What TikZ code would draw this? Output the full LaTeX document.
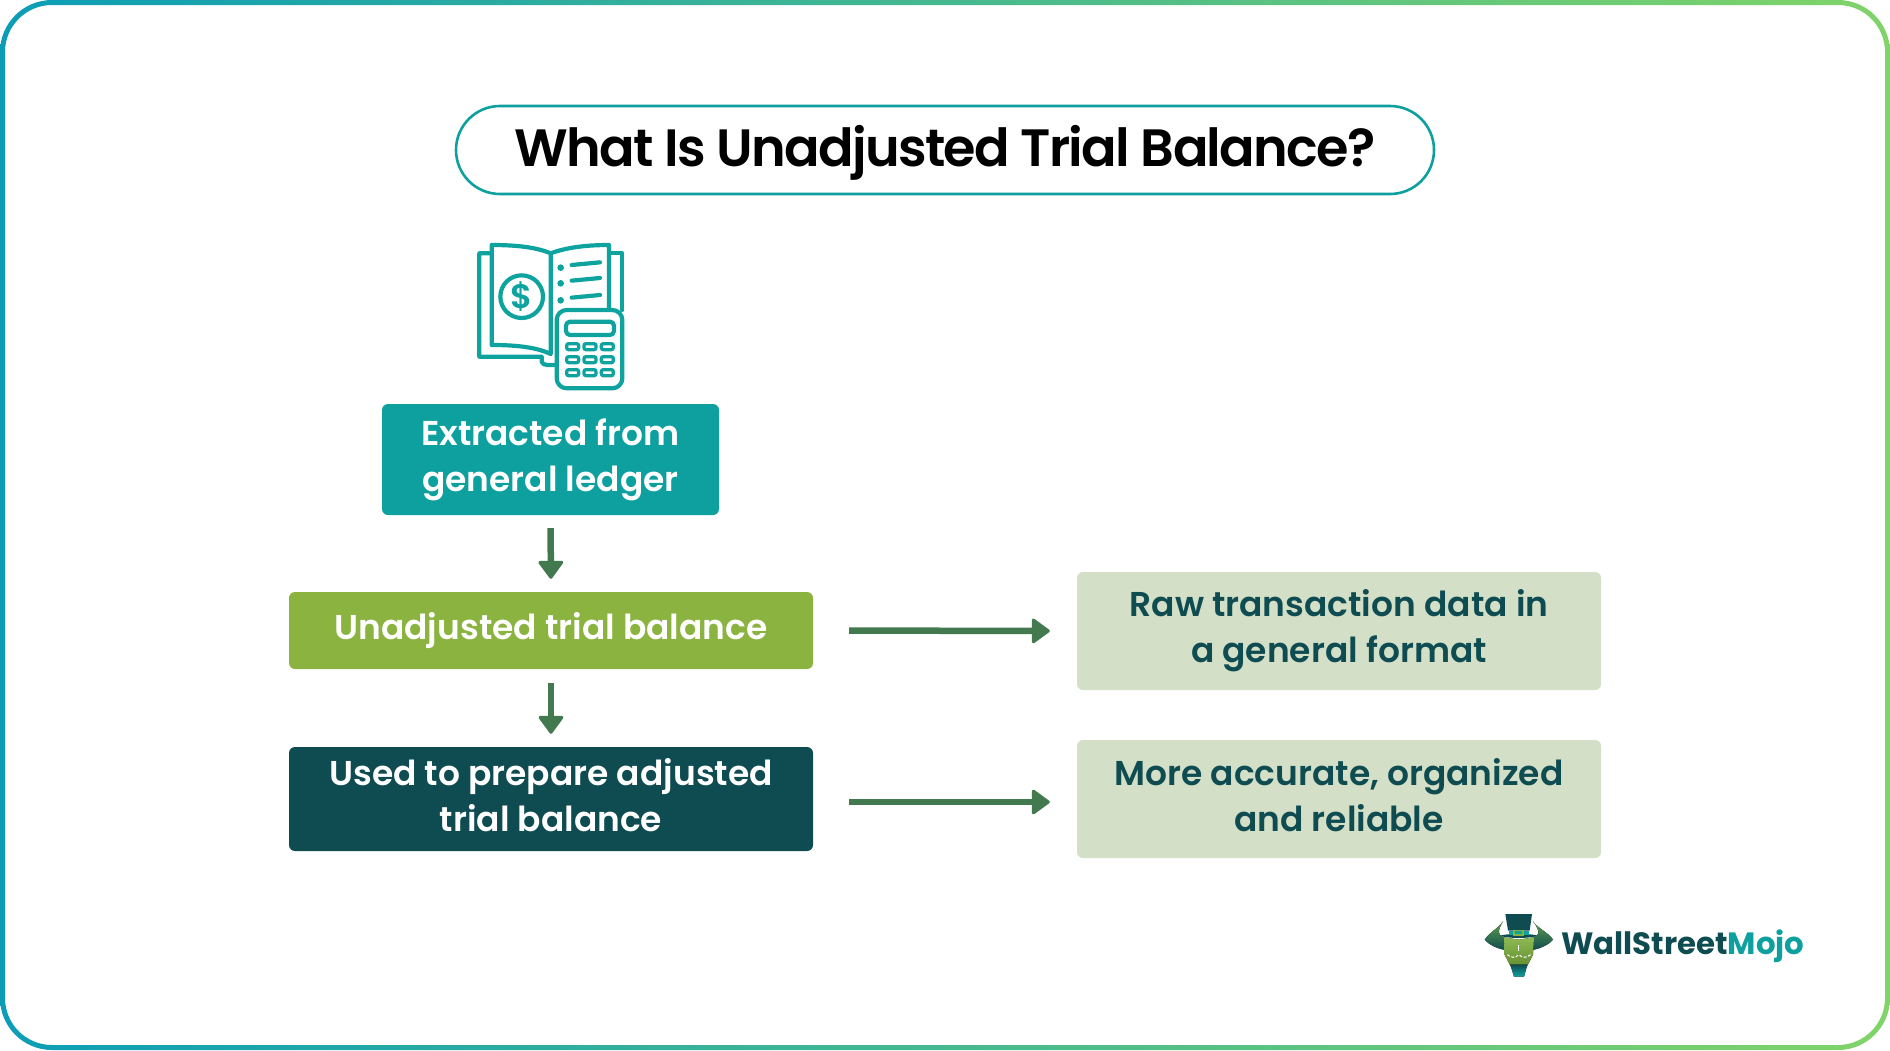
\documentclass[tikz,border=0pt]{standalone}
\usepackage{fontspec}
\setmainfont{Poppins}[BoldFont={Poppins SemiBold}]
\newfontfamily\titlefont{Poppins SemiBold}[LetterSpace=-3.3]
\newfontfamily\logofont{Poppins Bold}
\usetikzlibrary{arrows.meta}
\definecolor{tealbox}{HTML}{0E9F9F}
\definecolor{greenbox}{HTML}{8BB340}
\definecolor{darkbox}{HTML}{0F4C52}
\definecolor{palebox}{HTML}{D3DFC6}
\definecolor{arrowgreen}{HTML}{43794F}
\definecolor{iconteal}{HTML}{0FA3A0}
\definecolor{edgeL}{HTML}{0C9DB6}
\definecolor{edgeM}{HTML}{2FB58E}
\definecolor{edgeR}{HTML}{80D468}
\definecolor{logogreen}{HTML}{7FB23F}
\definecolor{logomid}{HTML}{5E9F4A}
\tikzset{
  flowbox/.style={minimum width=#1,rounded corners=6pt,align=center,inner sep=0pt,text depth=8.5pt,
    font=\fontsize{34.45}{46}\selectfont\bfseries},
  flowarrow/.style={draw=arrowgreen,line width=6.5pt,-{Triangle[length=19pt,width=27pt,line width=3pt,round]}},
  iconline/.style={draw=iconteal,line width=4.2pt,line join=round,line cap=round,fill=none},
  keycap/.style={draw=iconteal,line width=3.3pt,rounded corners=2pt,fill=white},
}
\begin{document}
\begin{tikzpicture}[x=1pt,y=-1pt]
\useasboundingbox (0,0) rectangle (1890,1050);
% gradient frame
\shade[even odd rule,left color=edgeL,middle color=edgeM,right color=edgeR]
  [rounded corners=52pt] (0,0) rectangle (1890,1050)
  [rounded corners=47pt] (5,5) rectangle (1885,1045);
% title
\node[draw=tealbox,line width=2.6pt,rounded corners=44pt,minimum width=978pt,minimum height=88pt,inner sep=0pt,
  text height=44.5pt,text depth=11.5pt,
  font=\fontsize{52.5}{60}\selectfont\titlefont,text=black] (title) at (945,150) {What Is Unadjusted Trial Balance?};
% boxes
\node[flowbox=337pt,minimum height=111pt,fill=tealbox,text=white] (ledger) at (550.5,459.5) {Extracted from\\general ledger};
\node[flowbox=524pt,minimum height=77pt,fill=greenbox,text=white] (unadj) at (551,630.5) {Unadjusted trial balance};
\node[flowbox=524pt,minimum height=104pt,fill=darkbox,text=white] (prep) at (551,799) {Used to prepare adjusted\\trial balance};
\node[flowbox=524pt,minimum height=118pt,fill=palebox,text=darkbox,text depth=10.5pt] (raw) at (1339,631) {Raw transaction data in\\a general format};
\node[flowbox=524pt,minimum height=118pt,fill=palebox,text=darkbox] (acc) at (1339,799) {More accurate, organized\\and reliable};
% arrows
\draw[flowarrow,shorten <=13pt,shorten >=13pt] (ledger.south) -- (unadj.north);
\draw[flowarrow,shorten <=14pt,shorten >=13pt] (unadj.south) -- (prep.north);
\draw[flowarrow,shorten <=36pt,shorten >=27pt] (unadj.east) -- (raw.west);
\draw[flowarrow,shorten <=36pt,shorten >=27pt] ([yshift=-3pt]prep.east) -- ([yshift=-3pt]acc.west);
% book + calculator icon (units: 3x zoom of the reference)
\begin{scope}[shift={(460,230)},x=0.3333pt,y=-0.3333pt]
  \draw[iconline] (95,70) -- (58,70) -- (58,380) -- (245,380) -- (245,395) .. controls (245,402) and (255,405) .. (262,405) -- (290,405);
  \draw[iconline] (447,70) -- (487,70) -- (487,240);
  \draw[iconline] (95,45) .. controls (170,45) and (230,52) .. (272,70) -- (272,372) .. controls (230,352) and (170,345) .. (95,345) -- cycle;
  \draw[iconline] (272,70) .. controls (320,52) and (380,45) .. (447,45) -- (447,240);
  \draw[iconline] (185,200) circle (64);
  \node[inner sep=0pt,text=iconteal,font=\fontsize{34}{36}\selectfont\bfseries] (dollar) at (185,200) {\$};
  \foreach \yy in {105,152,203}{
    \draw[iconline] (335,\yy) -- (420,\yy-8);
    \fill[iconteal] (302,\yy+8) circle (10);
  }
  \draw[iconline,fill=white,rounded corners=10pt] (290,240) rectangle (487,475);
  \draw[iconline,rounded corners=4pt] (318,275) rectangle (462,315);
  \foreach \kx in {338,390,442}\foreach \ky in {350,389,428}{
    \draw[keycap] (\kx-18,\ky-9) rectangle (\kx+18,\ky+9);
  }
\end{scope}
% logo head (units: 3x zoom of the reference)
\begin{scope}[shift={(1478,908)},x=0.3333pt,y=-0.3333pt]
  \fill[top color=logomid,bottom color=darkbox] (75,40) .. controls (60,62) and (35,72) .. (20,95) .. controls (35,112) and (60,122) .. (82,126) -- (78,88) .. controls (62,84) and (55,72) .. cycle;
  \fill[top color=logomid,bottom color=darkbox] (165,40) .. controls (180,62) and (210,72) .. (225,95) .. controls (210,112) and (185,122) .. (163,126) -- (168,88) .. controls (182,84) and (190,72) .. cycle;
  \fill[top color=logogreen!90!white,bottom color=logogreen!80!black] (78,88) -- (122,95) -- (168,88) -- (165,140) -- (147,175) -- (98,175) -- (80,140) -- cycle;
  \fill[top color=darkbox,bottom color=iconteal] (97,170) -- (148,170) -- (138,206) -- (108,206) -- cycle;
  \draw[white,line width=1pt] (122,112) -- (122,130);
  \draw[white,line width=1pt,dash pattern=on 3pt off 1.5pt] (88,140) .. controls (100,150) and (112,150) .. (120,142);
  \draw[white,line width=1pt,dash pattern=on 3pt off 1.5pt] (125,142) .. controls (133,150) and (145,150) .. (158,140);
  \fill[darkbox] (82,18) -- (162,18) -- (155,68) -- (90,68) -- cycle;
  \fill[darkbox] (66,83) .. controls (85,76) and (160,76) .. (180,83) .. controls (160,92) and (85,92) .. cycle;
  \fill[iconteal] (92,68) rectangle (154,80);
  \draw[logogreen,line width=1.3pt] (108,67) rectangle (135,81);
\end{scope}
% logo wordmark
\node[inner sep=0pt,anchor=west,font=\fontsize{30.8}{36}\selectfont\logofont] (brand) at (1561,946.5)
    {\textcolor{darkbox}{WallStreet}\textcolor{tealbox}{Mojo}};
\end{tikzpicture}
\end{document}
